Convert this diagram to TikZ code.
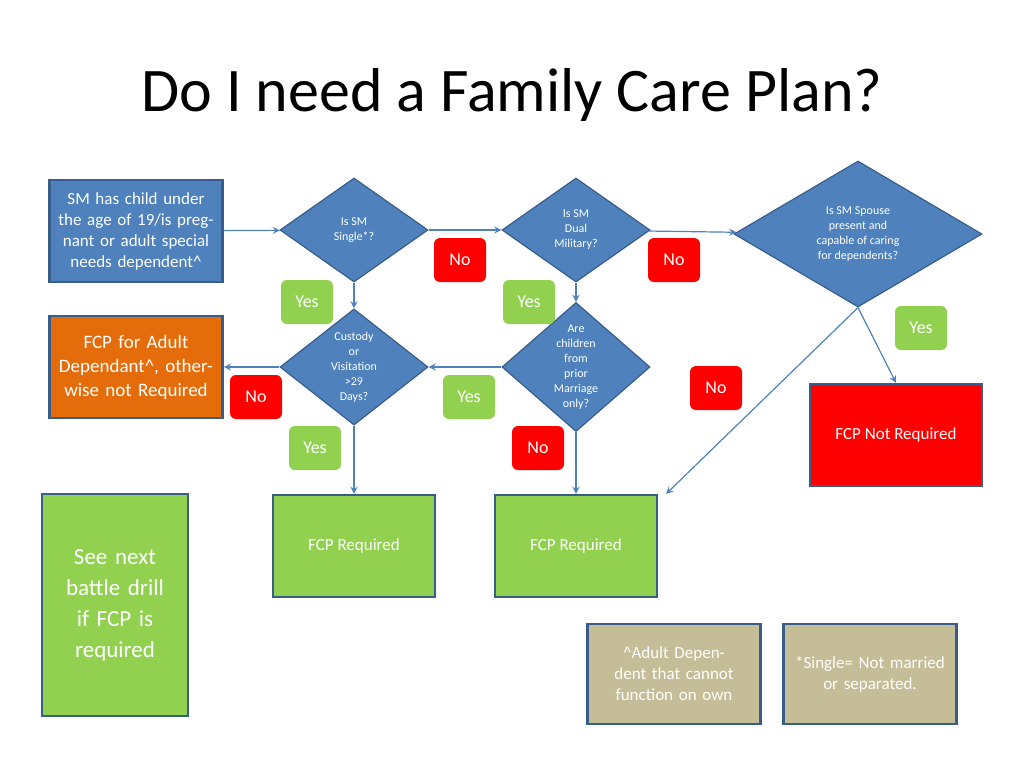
\documentclass[tikz,border=0pt]{standalone}
\usepackage{fontspec}
\setmainfont{Carlito}
\usetikzlibrary{shapes.geometric,arrows,calc}
\definecolor{sblue}{HTML}{4F81BD}
\definecolor{sbord}{HTML}{385D8A}
\definecolor{sgreen}{HTML}{92D050}
\definecolor{sorange}{HTML}{E46C0A}
\definecolor{stan}{HTML}{C4BD97}
\begin{document}
\begin{tikzpicture}[x=0.5pt,y=-0.5pt,
	box/.style = {draw=sbord, line width=1.2pt, text=white, align=center, font=\fontsize{8.5}{10.5}\selectfont},
	question/.style = {diamond, draw=sbord, fill=sblue, line width=0.6pt, text=white, align=center,
		inner sep=0pt, font=\fontsize{6}{7.5}\selectfont},
	yes/.style = {rectangle, rounded corners=3pt, fill=sgreen, text=white, minimum width=26pt,
		minimum height=22pt, font=\fontsize{9}{10}\selectfont},
	no/.style = {yes, fill=red},
	link/.style = {draw=sblue, line width=0.6pt, ->, >=stealth}]
	
	\useasboundingbox (0,0) rectangle (1024,768);
	
	% Title
	\node (title) at (512,95) {\fontsize{31}{36}\selectfont Do I need a Family Care Plan?};
	
	% Start
	\node[box, fill=sblue, minimum width=86pt, minimum height=51pt, text width=80pt] (start) at (136,231)
		{SM has child under the age of 19/is pregnant or adult special needs dependent\^{}};
	
	% Questions
	\node[question, minimum width=74pt, minimum height=52pt] (single) at (354,230) {Is SM\\Single*?};
	\node[question, minimum width=74pt, minimum height=52pt] (dual) at (576,230) {Is SM\\Dual\\Military?};
	\node[question, minimum width=124pt, minimum height=73pt] (spouse) at (858,234)
		{Is SM Spouse\\present and\\capable of caring\\for dependents?};
	\node[question, minimum width=74pt, minimum height=52pt] (custody) at (354,367)
		{Custody\\or\\Visitation\\>29\\Days?};
	\node[question, minimum width=74pt, minimum height=52pt] (prior) at (576,367)
		{Are\\children\\from\\prior\\Marriage\\only?};
	
	% Results
	\node[box, fill=sorange, minimum width=86pt, minimum height=51pt, text width=80pt,
		font=\fontsize{9.5}{12}\selectfont] (adult) at (136,367)
		{FCP for Adult Dependant\^{}, otherwise not Required};
	\node[box, fill=red, minimum width=86pt, minimum height=51pt] (notreq) at (896,435) {FCP Not Required};
	\node[box, fill=sgreen, minimum width=81pt, minimum height=51pt] (fcpa) at (354,546) {FCP Required};
	\node[box, fill=sgreen, minimum width=81pt, minimum height=51pt] (fcpb) at (576,546) {FCP Required};
	\node[box, fill=sgreen, minimum width=73pt, minimum height=111pt, text width=66pt,
		font=\fontsize{11.5}{15.5}\selectfont] (drill) at (115,605) {See next battle drill if FCP is required};
	
	% Notes
	\node[box, fill=stan, minimum width=86pt, minimum height=50pt, text width=80pt] (note1) at (674,674)
		{\^{}Adult Dependent that cannot function on own};
	\node[box, fill=stan, minimum width=85pt, minimum height=50pt, text width=80pt] (note2) at (870,674)
		{*Single= Not married or separated.};
	
	% Connectors
	\draw[link] (start) -- (single);
	\draw[link] (single) -- (dual);
	\draw[link] (dual) -- (spouse);
	\draw[link] (single) -- (custody);
	\draw[link] (dual) -- (prior);
	\draw[link] (prior) -- (custody);
	\draw[link] (custody) -- (adult);
	\draw[link] (custody) -- (fcpa);
	\draw[link] (prior) -- (fcpb);
	\draw[link] (spouse.south) -- (notreq.north);
	\draw[link] (spouse.south) -- ($(fcpb.north east)+(8,0)$);
	
	% Answers
	\node[yes] (y1) at (307,302) {Yes};
	\node[yes] (y2) at (529,302) {Yes};
	\node[yes] (y3) at (921,328) {Yes};
	\node[yes] (y4) at (469,397) {Yes};
	\node[yes] (y5) at (315,448) {Yes};
	\node[no] (n1) at (460,260) {No};
	\node[no] (n2) at (674,260) {No};
	\node[no] (n3) at (256,397) {No};
	\node[no] (n4) at (716,388) {No};
	\node[no] (n5) at (538,448) {No};
	
\end{tikzpicture}
\end{document}
